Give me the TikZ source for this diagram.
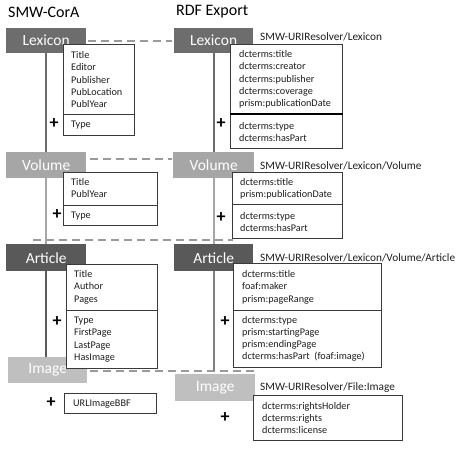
\documentclass[tikz,border=0pt]{standalone}
\usepackage{fontspec}
\setmainfont{Carlito}
\usetikzlibrary{backgrounds}
\definecolor{lexc}{HTML}{6D6D6D}
\definecolor{volc}{HTML}{A6A6A6}
\definecolor{artc}{HTML}{595959}
\definecolor{imgc}{HTML}{BFBFBF}
\definecolor{dashc}{HTML}{9A9A9A}
\definecolor{boxc}{HTML}{3A3A3A}
\definecolor{txtc}{HTML}{1E1E1E}
\tikzset{
  hdr/.style={anchor=north west, inner sep=0pt, text=white, font=\fontsize{15.5}{17}\selectfont, minimum height=25pt},
  attrbox/.style={anchor=north west, draw=boxc, fill=white, line width=0.9pt, inner sep=0pt},
  sepline/.style={draw=boxc, line width=0.9pt},
  sepbold/.style={draw=black, line width=1.3pt},
  txt/.style={anchor=base west, inner sep=0pt, text=txtc, font=\fontsize{10.2}{12}\selectfont},
  uri/.style={anchor=west, inner sep=0pt, text=txtc, font=\fontsize{11.3}{13}\selectfont},
  ttl/.style={anchor=west, inner sep=0pt, text=black, font=\fontsize{16}{18}\selectfont},
  plus/.style={inner sep=0pt, font=\fontsize{18}{18}\selectfont\bfseries},
  dashline/.style={draw=dashc, line width=2pt, dash pattern=on 8pt off 5pt},
  vline/.style={line width=2pt},
}
\begin{document}
\begin{tikzpicture}[x=1pt,y=-1pt]
\useasboundingbox (0,0) rectangle (474,449);
% titles
\node[ttl] (t1) at (8,12) {SMW-CorA};
\node[ttl] (t2) at (176,12) {RDF Export};
% headers
\node[hdr, fill=lexc, minimum width=80pt] (lexL) at (6,28) {Lexicon};
\node[hdr, fill=lexc, minimum width=79pt] (lexR) at (174,28) {Lexicon};
\node[hdr, fill=volc, minimum width=80pt, minimum height=26pt] (volL) at (6,152) {Volume};
\node[hdr, fill=volc, minimum width=81pt, minimum height=26pt] (volR) at (173,152) {Volume};
\node[hdr, fill=artc, minimum width=80pt, minimum height=27pt] (artL) at (6,244) {Article};
\node[hdr, fill=artc, minimum width=79pt, minimum height=27pt] (artR) at (174,244) {Article};
\node[hdr, fill=imgc, minimum width=79pt, minimum height=26pt] (imgL) at (8,357) {Image};
\node[hdr, fill=imgc, minimum width=80pt, minimum height=27pt] (imgR) at (175,374) {Image};
% dashed line end points
\coordinate (d1a) at (88,41); \coordinate (d1b) at (172,41);
\coordinate (d2a) at (90,159); \coordinate (d2b) at (172,159);
\coordinate (d3a) at (33,240); \coordinate (d3b) at (233,240);
\coordinate (d4a) at (90,371); \coordinate (d4b) at (255,371);
\begin{scope}[on background layer]
\draw[dashline] (d1a) -- (d1b);
\draw[dashline] (d2a) -- (d2b);
\draw[dashline] (d3a) -- (d3b);
\draw[dashline] (d4a) -- (d4b);
\draw[vline, draw=lexc] (lexL.south) -- (volL.north);
\draw[vline, draw=lexc] (lexR.south) -- (volR.north);
\draw[vline, draw=volc] (volL.south) -- (artL.north);
\draw[vline, draw=volc] (volR.south) -- (artR.north);
\draw[vline, draw=artc] (artL.south) -- (artL.south |- imgL.north);
\draw[vline, draw=gray] (artR.south) -- (artR.south |- d4a);
\end{scope}
% boxes
\node[attrbox, minimum width=71pt, minimum height=91pt] (lexLbox) at (63,44) {};
\draw[sepline] (lexLbox.west |- 0,114) -- (lexLbox.east |- 0,114);
\node[attrbox, minimum width=112pt, minimum height=104pt] (lexRbox) at (230,44) {};
\draw[sepbold] (lexRbox.west |- 0,114) -- (lexRbox.east |- 0,114);
\node[attrbox, minimum width=94pt, minimum height=53pt] (volLbox) at (63,172) {};
\draw[sepline] (volLbox.west |- 0,205) -- (volLbox.east |- 0,205);
\node[attrbox, minimum width=110pt, minimum height=66pt] (volRbox) at (232,172) {};
\draw[sepline] (volRbox.west |- 0,204) -- (volRbox.east |- 0,204);
\node[attrbox, minimum width=91pt, minimum height=104pt] (artLbox) at (66,264) {};
\draw[sepline] (artLbox.west |- 0,310) -- (artLbox.east |- 0,310);
\node[attrbox, minimum width=148pt, minimum height=104pt] (artRbox) at (233,263) {};
\draw[sepline] (artRbox.west |- 0,310) -- (artRbox.east |- 0,310);
\node[attrbox, minimum width=92pt, minimum height=20pt] (imgLbox) at (64,393) {};
\node[attrbox, minimum width=149pt, minimum height=45pt] (imgRbox) at (253,395) {};
% box texts
\foreach \t [count=\i from 0] in {Title,Editor,Publisher,PubLocation,PublYear}
  \node[txt] (lexLa\i) at (71,58.5+12.3*\i) {\t};
\node[txt] (lexLb0) at (71,127.5) {Type};
\foreach \t [count=\i from 0] in {dcterms:title,dcterms:creator,dcterms:publisher,dcterms:coverage,prism:publicationDate}
  \node[txt] (lexRa\i) at (239,57.5+12.3*\i) {\t};
\foreach \t [count=\i from 0] in {dcterms:type,dcterms:hasPart}
  \node[txt] (lexRb\i) at (239,129.5+12.3*\i) {\t};
\foreach \t [count=\i from 0] in {Title,PublYear}
  \node[txt] (volLa\i) at (71,185.5+12.3*\i) {\t};
\node[txt] (volLb0) at (71,218.5) {Type};
\foreach \t [count=\i from 0] in {dcterms:title,prism:publicationDate}
  \node[txt] (volRa\i) at (240,185.5+12.3*\i) {\t};
\foreach \t [count=\i from 0] in {dcterms:type,dcterms:hasPart}
  \node[txt] (volRb\i) at (240,219.5+12.3*\i) {\t};
\foreach \t [count=\i from 0] in {Title,Author,Pages}
  \node[txt] (artLa\i) at (74,277.5+12.3*\i) {\t};
\foreach \t [count=\i from 0] in {Type,FirstPage,LastPage,HasImage}
  \node[txt] (artLb\i) at (74,323.5+12.3*\i) {\t};
\foreach \t [count=\i from 0] in {dcterms:title,foaf:maker,prism:pageRange}
  \node[txt] (artRa\i) at (242,277.5+12.3*\i) {\t};
\foreach \t [count=\i from 0] in {dcterms:type,prism:startingPage,prism:endingPage,{dcterms:hasPart\ \ (foaf:image)}}
  \node[txt] (artRb\i) at (242,323+12.1*\i) {\t};
\node[txt] (imgLa0) at (73,406.5) {URLImageBBF};
\foreach \t [count=\i from 0] in {dcterms:rightsHolder,dcterms:rights,dcterms:license}
  \node[txt] (imgRa\i) at (262,409.5+12*\i) {\t};
% URIs
\node[uri] (u1) at (260,37) {SMW-URIResolver/Lexicon};
\node[uri] (u2) at (260,166) {SMW-URIResolver/Lexicon/Volume};
\node[uri] (u3) at (260,258) {SMW-URIResolver/Lexicon/Volume/Article};
\node[uri] (u4) at (260,388) {SMW-URIResolver/File:Image};
% pluses
\node[plus] (p1) at (54,124) {+};
\node[plus] (p2) at (221,124) {+};
\node[plus] (p3) at (57,215) {+};
\node[plus] (p4) at (221,218) {+};
\node[plus] (p5) at (57,322) {+};
\node[plus] (p6) at (225,322) {+};
\node[plus] (p7) at (51,403) {+};
\node[plus] (p8) at (225,418) {+};
\end{tikzpicture}
\end{document}
